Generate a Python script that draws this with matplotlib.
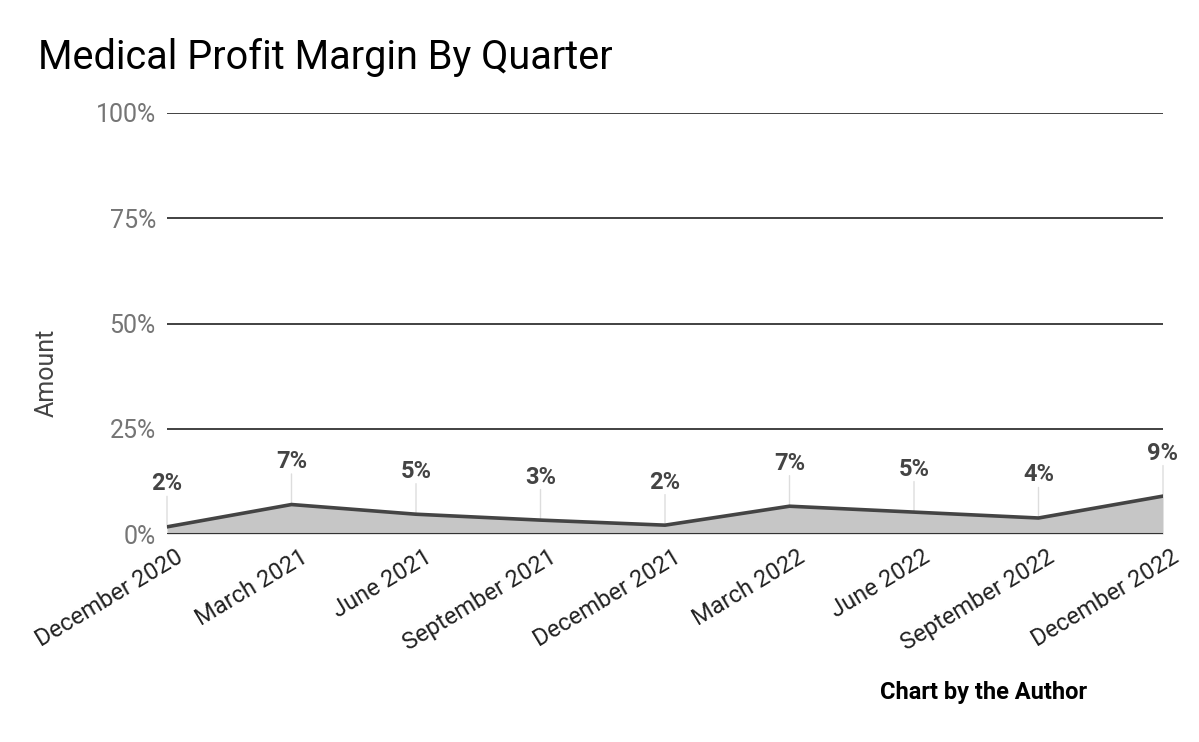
import matplotlib
matplotlib.use("Agg")
import matplotlib.pyplot as plt
import matplotlib.transforms as mtransforms

plt.rcParams['font.family'] = ['Roboto', 'DejaVu Sans']

# 数据
quarters = ['December 2020', 'March 2021', 'June 2021', 'September 2021',
            'December 2021', 'March 2022', 'June 2022', 'September 2022',
            'December 2022']
margin = [1.7, 7.0, 4.7, 3.3, 2.1, 6.6, 5.2, 3.8, 9.0]
labels = ['2%', '7%', '5%', '3%', '2%', '7%', '5%', '4%', '9%']
yticks = [0, 25, 50, 75, 100]
ytick_labels = ['0%', '25%', '50%', '75%', '100%']

fig = plt.figure(figsize=(11.99, 7.42), dpi=100)
ax = fig.add_axes([167 / 1199, 1 - 534 / 742, (1163 - 167) / 1199, (534 - 113) / 742])

x = list(range(len(quarters)))

# 网格线
for t in yticks[1:]:
    ax.axhline(t, color='#333333', lw=1.3, zorder=1)

# 面积和折线
ax.fill_between(x, margin, 0, color='#c6c6c6', zorder=2, lw=0)
ax.plot(x, margin, color='#444444', lw=2.6, zorder=4, solid_joinstyle='miter')
ax.axhline(0, color='#333333', lw=2.2, zorder=5)

# 数据标签和引线
for xi, v, lab in zip(x, margin, labels):
    ax.annotate(lab, (xi, v), xytext=(0, 31), textcoords='offset points',
                ha='center', va='center', fontsize=17, fontweight='bold',
                color='#444444', zorder=6)
    ax.annotate('', (xi, v), xytext=(0, 22), textcoords='offset points',
                arrowprops=dict(arrowstyle='-', color='#dddddd', lw=1,
                                shrinkA=0, shrinkB=0), zorder=3)

ax.set_xlim(0, len(quarters) - 1)
ax.set_ylim(0, 100)
ax.set_yticks(yticks)
ax.set_yticklabels(ytick_labels, fontsize=18, color='#757575')
ax.tick_params(axis='y', length=0, pad=8)
ax.set_xticks(x)
ax.set_xticklabels(quarters, fontsize=17, color='#222222', rotation=31,
                   ha='right', va='top', rotation_mode='anchor')
ax.tick_params(axis='x', length=0, pad=8)
offset = mtransforms.ScaledTranslation(8 / 100, 0, fig.dpi_scale_trans)
for lbl in ax.get_xticklabels():
    lbl.set_transform(lbl.get_transform() + offset)

for s in ax.spines.values():
    s.set_visible(False)

fig.text(38 / 1199, 1 - 69 / 742, 'Medical Profit Margin By Quarter',
         fontsize=28.5, color='#000000', va='baseline', ha='left')
fig.text(47 / 1199, 1 - 373 / 742, 'Amount', fontsize=18, color='#444444',
         rotation=90, ha='center', va='center')
fig.text(880 / 1199, 1 - 699 / 742, 'Chart by the Author', fontsize=17,
         fontweight='bold', color='#000000', va='baseline', ha='left')

fig.savefig('out.png', dpi=100)
